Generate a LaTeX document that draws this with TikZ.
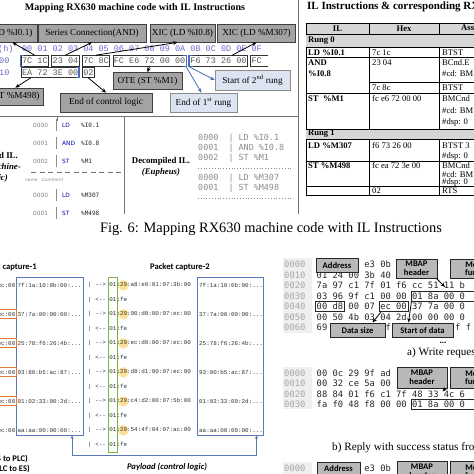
\documentclass[tikz,border=0pt]{standalone}
\usepackage{fontspec}
\setmainfont{Liberation Serif}
\newfontfamily\monoA{Liberation Mono}
\newfontfamily\monoB{DejaVu Sans Mono}
\newfontfamily\sansA{DejaVu Sans}
\newfontfamily\calib{Carlito}
\usetikzlibrary{arrows.meta,calc}
\newcommand\myfs[1]{\fontsize{#1}{#1}\selectfont}
\newcommand\myrarr{-{}-{}>}
\newcommand\mylarr{<-{}-}
\newcommand\mydots{.{}.{}.}
\definecolor{boxgray}{HTML}{A3A3A3}
\definecolor{lblue}{HTML}{DCE3F1}
\definecolor{rungblue}{HTML}{4A6CB4}
\definecolor{hexhead}{HTML}{6A6AC8}
\definecolor{capblue}{HTML}{5A78BC}
\definecolor{capgreen}{HTML}{7DB243}
\definecolor{caporange}{HTML}{E0793A}
\definecolor{hlyellow}{HTML}{FBE19A}
\definecolor{tblhead}{HTML}{D6D6D6}
\definecolor{offbg}{HTML}{EFEFEF}
\begin{document}
\begin{tikzpicture}[x=1pt,y=-1pt,
  gbox/.style={draw=black!75,fill=boxgray,line width=0.7pt,inner sep=0pt,font=\myfs{9.2}},
  bbox/.style={draw=black!45,fill=lblue,line width=0.6pt,inner sep=0pt,font=\myfs{9.2}},
  arr/.style={-{Stealth[length=4.5pt,width=3.8pt]},line width=0.8pt},
  barr/.style={arr,draw=rungblue},
  rb/.style={draw=rungblue,line width=1.3pt},
  hb/.style={draw=black!80,line width=0.6pt,inner sep=0pt,minimum height=11pt},
  hexrow/.style={anchor=west,inner sep=0pt,font=\monoA\myfs{8.5},text=black!65},
  hexhd/.style={anchor=west,inner sep=0pt,font=\monoA\myfs{8.5},text=hexhead},
  meaddr/.style={anchor=west,inner sep=0pt,font=\sansA\myfs{5.8},text=black!50},
  meop/.style={anchor=west,inner sep=0pt,font=\sansA\myfs{5.8},text=blue!70!black},
  mearg/.style={anchor=west,inner sep=0pt,font=\monoB\myfs{6},text=black!85},
  eu/.style={anchor=west,inner sep=0pt,font=\monoB\myfs{8.4},text=black!45},
  tt/.style={anchor=west,inner sep=0pt,font=\myfs{8.6}},
  ttb/.style={anchor=west,inner sep=0pt,font=\bfseries\myfs{8.6}},
  tline/.style={draw=black,line width=0.6pt},
  pk/.style={inner sep=0pt,font=\monoA\myfs{5.9},text=black!80},
  pkt/.style={inner sep=0pt,font=\calib\bfseries\myfs{8.6}},
  dbox/.style={draw=black!85,fill=black!28,line width=0.9pt,inner sep=0pt,font=\calib\bfseries\fontsize{8.6}{8.8}\selectfont,align=center},
  hx/.style={anchor=west,inner sep=0pt,font=\monoB\myfs{8.8},text=black!85},
  off/.style={anchor=west,inner sep=0pt,font=\monoB\myfs{8.8},text=black!35},
  subcap/.style={anchor=west,inner sep=0pt,font=\myfs{11.2}}
]
\useasboundingbox (0,0) rectangle (474,474);
\clip (0,0) rectangle (474,474);
\fill[white] (0,0) rectangle (474,474);

% ================= top-left: mapping figure =================
\node[font=\bfseries\myfs{10}] (t1) at (135,8) {Mapping RX630 machine code with IL Instructions};

\node[gbox,minimum width=70pt,minimum height=18pt] (b1) at (2,33) {XIC (LD \%I0.1)};
\node[gbox,minimum width=108pt,minimum height=18pt] (b2) at (92,33) {Series Connection(AND)};
\node[gbox,minimum width=65pt,minimum height=18pt] (b3) at (182.5,33) {XIC (LD \%I0.8)};
\node[gbox,minimum width=78pt,minimum height=18pt] (b4) at (256.5,33) {XIC (LD \%M307)};

\node[hexhd] (hl) at (-2,49) {(h)};
\node[hexhd] (hh) at (21.9,49) {00 01 02 03 04 05 06 07 08 09 0A 0B 0C 0D 0E 0F};
\node[hexhd] (rl0) at (-1,61) {00};
\node[hexhd] (rl1) at (-1,72.5) {10};

\node[hb,minimum width=27.1pt] (g1) at (34.65,61) {};
\node[hb,minimum width=27.1pt] (g2) at (65.25,61) {};
\node[hb,minimum width=27.1pt] (g3) at (95.85,61) {};
\node[hb,minimum width=73pt] (g4) at (149.4,61) {};
\node[hb,minimum width=57.7pt] (g5) at (218.25,61) {};
\draw[draw=black!80,line width=0.6pt] (268,55.5) -- (250.6,55.5) -- (250.6,66.5) -- (268,66.5);
\node[hb,minimum width=57.7pt,minimum height=10pt] (g7) at (49.95,72.5) {};
\node[hb,minimum width=11.8pt,minimum height=10pt] (g8) at (88.2,72.5) {};

\node[hexrow] (r0) at (21.9,61) {7C 1C 23 04 7C 8C FC E6 72 00 00 F6 73 26 00 FC};
\node[hexrow] (r1) at (21.9,72.5) {EA 72 3E 00 02};

% rung brackets
\draw[rb] ($(g1.north west)+(3.5,0)$) -- (g1.north west) -- (g1.south west) -- ($(g1.south west)+(3.5,0)$);
\draw[rb] ($(g4.north east)+(-3.5,0)$) -- (g4.north east) -- (g4.south east) -- ($(g4.south east)+(-3.5,0)$);
\draw[rb] ($(g5.north west)+(3.5,0)$) -- (g5.north west) -- (g5.south west) -- ($(g5.south west)+(3.5,0)$);
\draw[rb] ($(g7.north east)+(-3.5,0)$) -- (g7.north east) -- (g7.south east) -- ($(g7.south east)+(-3.5,0)$);

\node[gbox,minimum width=69pt,minimum height=17pt] (ote) at (147.5,81) {OTE (ST \%M1)};
\node[bbox,minimum width=75pt,minimum height=20pt] (s2) at (252.5,80) {Start of 2\textsuperscript{nd} rung};
\node[gbox,minimum width=76pt,minimum height=17pt] (b498) at (5,96.5) {OTE (ST \%M498)};
\node[gbox,minimum width=92pt,minimum height=19pt] (ecl) at (106,102.5) {End of control logic};
\node[bbox,minimum width=67pt,minimum height=19pt] (e1) at (203.5,102.5) {End of 1\textsuperscript{st} rung};

\draw[arr] (g1.north) -- ($(b1.south east)+(-25,0)$);
\draw[arr] (g2.north) -- (b2.south);
\draw[arr] (g3.north) -- ($(b3.south)+(-5,0)$);
\draw[arr] ($(g5.north)+(14,0)$) -- (b4.south);
\draw[arr] (g4.south) -- (ote.north);
\draw[arr] ($(g7.south west)+(10,0)$) -- ($(b498.north east)+(-28,0)$);
\draw[arr] (g8.south) -- (ecl.north);
\draw[barr] (g4.south east) -- ($(e1.north)+(-2,0)$);
\draw[barr] (g5.south west) -- (s2.west);

% dividers
\draw[black!55,line width=0.6pt] (0,116) -- (298,116);
\draw[black!55,line width=0.6pt] (124,116) -- (124,214);
\draw[black!55,line width=0.6pt] (57,116) -- (57,121);
\draw[black!55,line width=0.6pt] (298,0) -- (298,214);

% machine expert listing
\node[font=\bfseries\myfs{8.8},anchor=east,inner sep=0pt] (dl1) at (18,156) {Decompiled IL.};
\node[font=\bfseries\itshape\myfs{8.8},anchor=east,inner sep=0pt] (dl2) at (21,167) {(Machine-};
\node[font=\bfseries\itshape\myfs{8.8},anchor=east,inner sep=0pt] (dl3) at (8,178) {Basic)};

\foreach \n/\yy/\ad/\op/\ag in {1/125/0000/LD/\%I0.1, 2/143/0001/AND/\%I0.8, 3/161/0002/ST/\%M1, 4/195/0000/LD/\%M307, 5/213/0001/ST/\%M498}{
  \node[meaddr] (mea\n) at (33,\yy) {\ad};
  \draw[black!45,line width=0.7pt] (56,\yy-6) -- (56,\yy+6);
  \node[meop] (meo\n) at (62,\yy) {\op};
  \node[mearg] (meg\n) at (81,\yy) {\ag};
}
\draw[black!55,line width=0.7pt,dash pattern=on 5pt off 3.5pt] (31,172) -- (122,172);
\node[anchor=west,inner sep=0pt,font=\sansA\itshape\myfs{4.4},text=black!45] (nmc) at (25,180) {name~~~Comment};

% eupheus listing
\node[font=\bfseries\myfs{8.8}] (dc1) at (161,161) {Decompiled IL.};
\node[font=\bfseries\itshape\myfs{8.8}] (dc2) at (161,172) {(Eupheus)};
\node[eu] (eu1) at (198,138) {0000~~|~LD~\%I0.1};
\node[eu] (eu2) at (198,148) {0001~~|~AND~\%I0.8};
\node[eu] (eu3) at (198,158) {0002~~|~ST~\%M1};
\draw[black!45,dotted,line width=0.8pt] (198,168) -- (292,168);
\node[eu] (eu4) at (198,178) {0000~~|~LD~\%M307};
\node[eu] (eu5) at (198,188) {0001~~|~ST~\%M498};
\draw[black!45,dotted,line width=0.8pt] (198,198) -- (292,198);

% ================= top-right: table =================
\node[anchor=west,inner sep=0pt,font=\bfseries\myfs{11}] (t2) at (307,7) {IL Instructions \& corresponding RX630 Assembly};
\fill[tblhead] (306,23) rectangle (480,47);
\fill[tblhead] (306,129) rectangle (480,139);
\foreach \yy in {23,34,47,57,93,129,139,161,186,195} \draw[tline] (306,\yy) -- (480,\yy);
\draw[tline] (369,82) -- (480,82);
\draw[tline] (306,23) -- (306,34);
\draw[tline] (369,23) -- (369,34);
\draw[tline] (439,23) -- (439,34);
\draw[tline] (306,47) -- (306,129);
\draw[tline] (369,47) -- (369,129);
\draw[tline] (439,47) -- (439,129);
\draw[tline] (306,139) -- (306,195);
\draw[tline] (369,139) -- (369,195);
\draw[tline] (439,139) -- (439,195);

\node[font=\bfseries\myfs{8.6}] (th1) at (337.5,28.8) {IL};
\node[font=\bfseries\myfs{8.6}] (th2) at (404,28.8) {Hex};
\node[ttb] (th3) at (461,28.8) {Assembly};
\node[ttb] (rg0) at (308,41) {Rung 0};
\node[ttb] (c11) at (308,52.3) {LD \%I0.1};
\node[tt] (c12) at (372,52.3) {7c 1c};
\node[tt] (c13) at (442,52.3) {BTST};
\node[ttb] (c21) at (308,63) {AND};
\node[ttb] (c21b) at (308,73.5) {\%I0.8};
\node[tt] (c22) at (372,62.5) {23 04};
\node[tt] (c23) at (442,63) {BCnd.E};
\node[tt] (c23b) at (442,74) {\#cd: BM};
\node[tt] (c32) at (372,87.5) {7c 8c};
\node[tt] (c33) at (442,87.5) {BTST};
\node[ttb] (c41) at (308,99) {ST~~\%M1};
\node[tt] (c42) at (372,99) {fc e6 72 00 00};
\node[tt] (c43) at (442,99) {BMCnd};
\node[tt] (c43b) at (442,110.5) {\#cd: BM};
\node[tt] (c43c) at (442,122) {\#dsp: 0};
\node[ttb] (rg1) at (308,134) {Rung 1};
\node[ttb] (c51) at (308,146) {LD \%M307};
\node[tt] (c52) at (372,146) {f6 73 26 00};
\node[tt] (c53) at (442,146) {BTST 3};
\node[tt] (c53b) at (442,156) {\#dsp: 0};
\node[ttb] (c61) at (308,166) {ST \%M498};
\node[tt] (c62) at (372,166) {fc ea 72 3e 00};
\node[tt] (c63) at (442,166) {BMCnd};
\node[tt] (c63b) at (442,174.5) {\#cd: BM};
\node[tt] (c63c) at (442,182.5) {\#dsp: 0};
\node[tt] (c72) at (372,190.5) {02};
\node[tt] (c73) at (442,190.5) {RTS};

% caption
\node[font=\myfs{14.4}] (fig) at (271,229) {Fig. 6: Mapping RX630 machine code with IL Instructions};

% ================= bottom-left: packet captures =================
\node[pkt,anchor=east] (pc1) at (37,267) {Packet capture-1};
\node[pkt] (pc2) at (180,267) {Packet capture-2};

\node[draw=capblue,line width=0.9pt,minimum width=67pt,minimum height=158pt,inner sep=0pt] (cap1) at (49.5,356) {};
\node[draw=capblue,line width=0.9pt,minimum width=66pt,minimum height=158pt,inner sep=0pt] (cap2) at (230,356) {};
\node[draw=capgreen,line width=0.9pt,minimum width=9pt,minimum height=175pt,inner sep=0pt] (grn) at (112.5,364.5) {};

\foreach \k/\lt/\md/\org in {
 0/7f:1a:10:0b:00:\mydots/a8:e0:01:07:3b:00/0,
 1/37:7a:00:00:00:\mydots/00:d0:00:07:ec:00/1,
 2/25:78:f6:26:4b:\mydots/ec:d0:00:07:ec:00/1,
 3/93:80:b5:ac:87:\mydots/d8:d1:00:07:ec:00/1,
 4/01:02:33:00:2d:\mydots/c4:d2:00:07:5b:00/1,
 5/aa:aa:00:00:00:\mydots/54:4f:04:07:ac:00/0}{
  \pgfmathsetmacro\ry{285.3+29*\k}
  \pgfmathsetmacro\ryb{\ry+14.4}
  \fill[hlyellow] (123.4,\ry) circle (5.3);
  \node[pk,anchor=east] (pl\k) at (15.5,\ry) {ec:00};
  \ifnum\org=1 \draw[caporange,line width=0.9pt] (-2,\ry-4.6) rectangle (16,\ry+4.6); \fi
  \node[pk,anchor=west] (pa\k) at (17.5,\ry) {\lt};
  \node[pk,anchor=west] (pm\k) at (88,\ry) {|~\myrarr~01:29:\md};
  \node[pk,anchor=west] (pr\k) at (199,\ry) {\lt};
  \node[pk,anchor=west] (pb\k) at (88,\ryb) {|~\mylarr~01:fe};
}

\draw[capblue,line width=0.9pt,{Stealth[length=3.5pt,width=3.2pt]}-{Stealth[length=3.5pt,width=3.2pt]}]
  ($(cap1.south west)+(56.5,0)$) -- ++(0,20) -- ($(cap2.south west)+(60,20)$) -- ($(cap2.south west)+(60,0)$);
\node[pkt,font=\calib\bfseries\itshape\myfs{8.6}] (pay) at (167,467) {Payload (control logic)};
\node[pkt,anchor=east] (dir1) at (28,459) {(ES to PLC)};
\node[pkt,anchor=east] (dir2) at (30,469) {(PLC to ES)};

% ================= bottom-right: Modbus dumps =================
\fill[offbg] (283,258) rectangle (312,333);
\fill[offbg] (283,367) rectangle (312,409);
\fill[offbg] (283,462) rectangle (312,474);
\foreach \i/\o in {0/0000,1/0010,2/0020,3/0030,4/0040,5/0050,6/0060}
  \node[off] (oa\i) at (284,264.5+10.5*\i) {\o};

\node[hx] (ha0) at (364.2,264.5) {e3 0b};
\node[hx] (ha1) at (316.5,275) {01 24 00 3b 40};
\node[hx] (ha2) at (316.5,285.5) {7a 97 c1 7f 01 f6 cc 51 11 b};
\node[hx] (ha3) at (316.5,296) {03 96 9f c1 00 00 01 8a 00 0};
\node[hx] (ha4) at (316.5,306.5) {00 d8 00 07 ec 00 37 7a 00 0};
\node[hx] (ha5) at (316.5,317) {00 50 4b 03 04 2d 00 00 00 0};
\node[hx] (ha6) at (316.5,327.5) {69};
\node[hx] (ha6b) at (385.4,327.5) {f};
\node[hx] (ha6c) at (455,327.5) {f f};

\node[dbox,minimum width=42pt,minimum height=13.5pt] (addr1) at (337,265.2) {Address};
\node[dbox,minimum width=41pt,minimum height=19pt] (mb1) at (416.5,268.5) {MBAP\\header};
\node[dbox,minimum width=60pt,minimum height=19pt] (fn1) at (480,268.5) {Modbus\\function};
\draw[draw=black!85,line width=0.9pt] (480,291) -- (411.5,291) -- (411.5,301) -- (480,301);
\node[draw=black!85,line width=0.9pt,minimum width=29pt,minimum height=10pt,inner sep=0pt] (d8) at (330,306.5) {};
\node[draw=black!85,line width=0.9pt,minimum width=29pt,minimum height=10pt,inner sep=0pt] (ec) at (394,306.5) {};
\node[dbox,minimum width=55pt,minimum height=14.5pt] (dsz) at (357.5,330.2) {Data size};
\node[dbox,minimum width=61pt,minimum height=14.5pt] (sod) at (422.5,330.2) {Start of data};
\draw[arr] ($(mb1.south east)+(-1,0)$) -- (445,287);
\draw[arr] ($(ec.south west)+(2,0)$) -- ($(dsz.north)+(15,0)$);
\draw[arr] (411.5,301) -- ($(sod.north)+(-14,0)$);
\node[font=\bfseries\myfs{9},inner sep=0pt] (dots) at (443,342.5) {\mydots};
\node[subcap] (capa) at (407,353) {a) Write request};

% b) reply
\foreach \i/\o in {0/0000,1/0010,2/0020,3/0030}
  \node[off] (ob\i) at (284,373+10.5*\i) {\o};
\node[hx] (hb0) at (316.5,373) {00 0c 29 9f ad};
\node[hx] (hb1) at (316.5,383.5) {00 32 ce 5a 00};
\node[hx] (hb2) at (316.5,394) {88 84 01 f6 c1 7f 48 33 4c 6};
\node[hx] (hb3) at (316.5,404.5) {fa f0 48 f8 00 00 01 8a 00 0};
\node[dbox,minimum width=50pt,minimum height=21pt] (mb2) at (422,377.5) {MBAP\\header};
\node[dbox,minimum width=60pt,minimum height=21pt] (fn2) at (480,377.5) {Modbus\\function};
\draw[draw=black!85,line width=0.9pt] (480,399.5) -- (411.5,399.5) -- (411.5,409.5) -- (480,409.5);
\draw[arr] ($(mb2.south east)+(-2,0)$) -- (442.5,391.5);
\node[subcap] (capb) at (332,448) {b) Reply with success status from};

% c) next panel (cut)
\node[off] (oc0) at (284,468) {0000};
\node[hx] (hc0) at (364.2,468) {e3 0b};
\node[dbox,minimum width=43pt,minimum height=14pt] (addr3) at (338.5,469) {Address};
\node[dbox,minimum width=50pt,minimum height=21pt] (mb3) at (422,471.5) {MBAP\\header};
\node[dbox,minimum width=60pt,minimum height=21pt] (fn3) at (480,471.5) {Modbus\\function};
\end{tikzpicture}
\end{document}
